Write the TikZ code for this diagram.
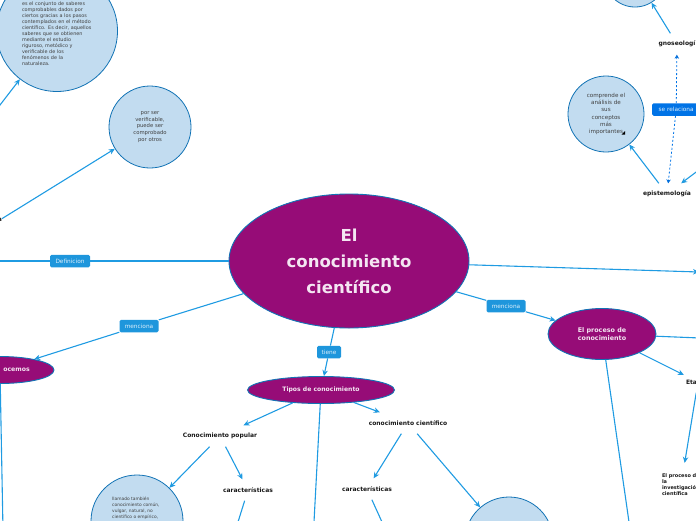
\documentclass[tikz,border=0pt]{standalone}
\usepackage{fontspec}
\setmainfont{DejaVu Sans}
\usetikzlibrary{shapes.geometric, arrows.meta}
\definecolor{hubpurple}{HTML}{960C77}
\definecolor{hubline}{HTML}{1273B5}
\definecolor{linkblue}{HTML}{1F9BE2}
\definecolor{tagblue}{HTML}{1E96DC}
\definecolor{relblue}{HTML}{0073E6}
\definecolor{bubblefill}{HTML}{C2DCF0}
\definecolor{softwhite}{HTML}{F4E6F2}
\tikzset{
    hub/.style={ellipse, draw=hubline, fill=hubpurple, line width=0.9pt, inner sep=0pt, text=softwhite, font=\bfseries, align=center}, % Purple topics
    bubble/.style={circle, draw=hubline, fill=bubblefill, line width=0.8pt, inner sep=0pt, text=black!75}, % Text circles
    word/.style={inner xsep=2pt, inner ysep=0pt, minimum height=21pt, text=black!90, font=\fontsize{6}{7.5}\selectfont\bfseries}, % Plain bold labels
    tag/.style={rectangle, rounded corners=1.5pt, fill=tagblue, inner sep=0pt, minimum height=12.5pt, text=white!85!tagblue, font=\fontsize{5.8}{7}\selectfont}, % Labels on lines
    link/.style={draw=linkblue, line width=1.1pt, >={Stealth[length=6pt,width=5.5pt]}},
    rel/.style={draw=relblue, line width=0.8pt, dash pattern=on 2pt off 2pt, <->, >={Stealth[length=4pt,width=4.5pt]}},
}

\begin{document}
\begin{tikzpicture}[x=1pt, y=-1pt]
    \useasboundingbox (0,0) rectangle (696,520);
    \clip (0,0) rectangle (696,520);

    % --- Purple topics ---
    \node[hub, minimum width=240pt, minimum height=134pt, font=\fontsize{16.5}{26}\selectfont\bfseries] (main) at (349,261) {El\\conocimiento\\científico};
    \node[hub, minimum width=108pt, minimum height=27pt] (knowing) at (0,370) {};
    \node[anchor=east, inner sep=0pt, text=softwhite, font=\fontsize{6.2}{7.5}\selectfont\bfseries] (knowingtxt) at (30,370) {ocemos};
    \node[hub, minimum width=147pt, minimum height=27pt, font=\fontsize{6.1}{7.5}\selectfont\bfseries] (types) at (321,390) {Tipos de conocimiento};
    \node[hub, minimum width=108pt, minimum height=51pt, font=\fontsize{6.4}{8.7}\selectfont\bfseries] (process) at (602,334) {El proceso de\\conocimiento};

    % --- Text circles ---
    \node[bubble, minimum size=121pt, text width=70pt, align=left, font=\fontsize{4.9}{6}\selectfont] (sciencedef) at (57,31) {el conocimiento científico\\es el conjunto de saberes\\comprobables dados por\\ciertos gracias a los pasos\\contemplados en el método\\científico. Es decir, aquellos\\saberes que se obtienen\\mediante el estudio\\riguroso, metódico y\\verificable de los\\fenómenos de la\\naturaleza.};
    \node[bubble, minimum size=82pt, align=center, font=\fontsize{5.3}{6.6}\selectfont] (verify) at (150,127) {por ser\\verificable,\\puede ser\\comprobado\\por otros};
    \node[bubble, minimum size=76pt, align=center, font=\fontsize{5.6}{7.3}\selectfont] (concepts) at (606,114) {comprende el\\análisis de\\sus\\conceptos\\más\\importantes};
    \node[bubble, minimum size=62pt] (topcircle) at (635,-24) {};
    \node[bubble, minimum size=92pt] (popcircle) at (137,521) {};
    \node[anchor=north west, inner sep=0pt, align=left, text=black!75, font=\fontsize{4.4}{5.9}\selectfont] (poptxt) at (112,497) {llamado también\\conocimiento común,\\vulgar, natural, no\\científico o empírico,};
    \node[bubble, minimum size=88pt] (scicircle) at (509,541) {};

    % --- Plain labels ---
    \node[word] (popular) at (220,436) {Conocimiento popular};
    \node[word] (popfeat) at (248,490) {características};
    \node[word] (scientific) at (408,423) {conocimiento científico};
    \node[word] (scifeat) at (367,489) {características};
    \node[word] (gnoseo) at (677,44) {gnoseologí};
    \node[word] (episte) at (667,194) {epistemología};
    \node[word, text width=24pt, align=left] (stages) at (698,382) {Eta};
    \node[word, anchor=east, inner xsep=0pt] (sideword) at (2,220) {a};
    \node[inner xsep=0pt, inner ysep=11pt, text width=38pt, align=left, text=black!90, font=\fontsize{5}{6}\selectfont\bfseries] (research) at (681,485) {El proceso d\\la\\investigació\\científica};

    % --- Labels on lines ---
    \node[tag, minimum width=40pt] (defn) at (70,261) {Definicion};
    \node[tag, minimum width=39pt] (menleft) at (139,326) {menciona};
    \node[tag, minimum width=24pt] (has) at (329,352) {tiene};
    \node[tag, minimum width=39pt] (menright) at (506,306) {menciona};
    \node[tag, minimum width=48pt, fill=relblue, anchor=west] (relates) at (652,109.5) {se relaciona};

    % --- Free ends past the edge of the page ---
    \coordinate (defnend) at (-10,261);
    \coordinate (rightend) at (699,272);
    \coordinate (leftdown) at (3,530);
    \coordinate (typesdown) at (314,522);
    \coordinate (procdown) at (629,522);
    \coordinate (procright) at (700,338);
    \coordinate (popdown) at (238,522);
    \coordinate (scidown) at (382,522);
    \coordinate (sidesrc) at (-20,131);
    \coordinate (epistesrc) at (720,154);

    % --- Connectors ---
    \path[link, ->]
        (main) edge[-] (defn)
        (defn) edge[-] (defnend)
        (main) edge (rightend)
        (main) edge[-] (menleft)
        (menleft) edge (knowing)
        (main) edge[-] (has)
        (has) edge (types)
        (main) edge[-] (menright)
        (menright) edge (process)

        (knowing) edge[-] (leftdown)
        (sidesrc) edge (sciencedef)
        (sideword) edge (verify)

        (types) edge (popular)
               edge (scientific)
               edge[-] (typesdown)
        (popular) edge (popcircle)
               edge (popfeat)
        (popfeat) edge[-] (popdown)
        (scientific) edge (scifeat)
               edge (scicircle)
        (scifeat) edge[-] (scidown)

        (process) edge[-] (procdown)
               edge[-] (procright)
               edge (stages)
        (stages) edge (research)

        (gnoseo) edge (topcircle)
        (episte) edge (concepts)
        (epistesrc) edge (episte);

    \path[rel, -{Stealth[length=4pt,width=4.5pt]}]
        (relates) edge (gnoseo)
                  edge (episte);

    % mark after the last word in the circle
    \fill[black] (621.5,134.5) -- (625,134.5) -- (625,131) -- cycle;
\end{tikzpicture}
\end{document}
